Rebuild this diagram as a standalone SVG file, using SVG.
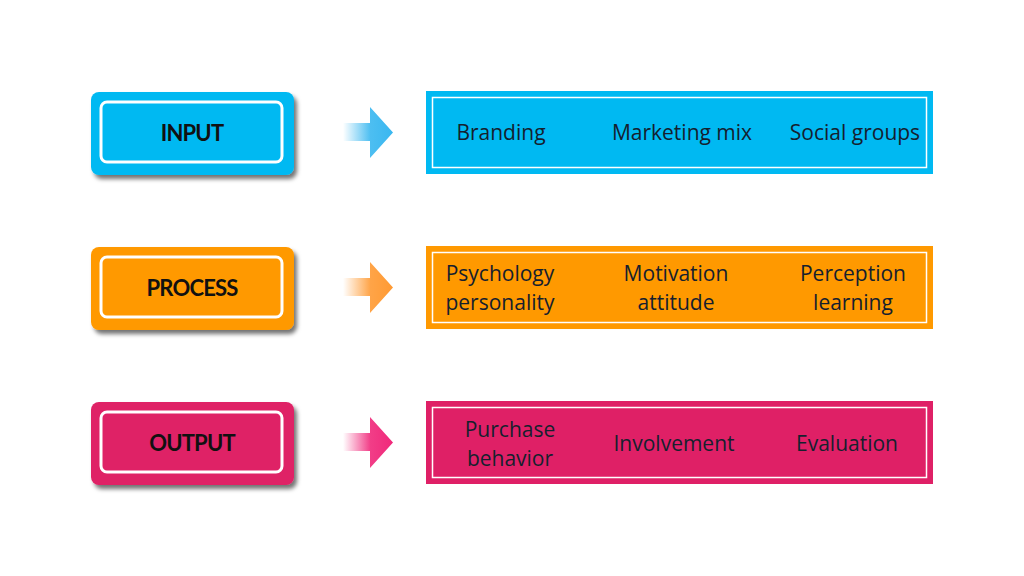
<svg xmlns="http://www.w3.org/2000/svg" width="1024" height="576" viewBox="0 0 1024 576">
<style>
.lbl{font-family:Lato,"Open Sans","Liberation Sans",sans-serif;font-weight:700;font-size:22px;letter-spacing:-0.8px;fill:#111;text-anchor:middle}
.t{font-family:"Open Sans","Liberation Sans",sans-serif;font-size:21px;fill:#15202e;text-anchor:middle}
.inner{fill:none;stroke:#fff;stroke-width:3}
.inner2{fill:none;stroke:#fff;stroke-width:1.5}
</style>
<defs>
<filter id="sh" x="-10%" y="-10%" width="130%" height="140%">
<feDropShadow dx="3" dy="4" stdDeviation="2" flood-color="#000" flood-opacity="0.55"/>
</filter>
<linearGradient id="gb" x1="0" x2="1" y1="0" y2="0"><stop offset="0" stop-color="#39b7f0" stop-opacity="0"/><stop offset="0.55" stop-color="#39b7f0" stop-opacity="0.9"/><stop offset="1" stop-color="#39b7f0"/></linearGradient>
<linearGradient id="go" x1="0" x2="1" y1="0" y2="0"><stop offset="0" stop-color="#ff9a33" stop-opacity="0"/><stop offset="0.55" stop-color="#ff9a33" stop-opacity="0.9"/><stop offset="1" stop-color="#ff9a33"/></linearGradient>
<linearGradient id="gp" x1="0" x2="1" y1="0" y2="0"><stop offset="0" stop-color="#f0287a" stop-opacity="0"/><stop offset="0.55" stop-color="#f0287a" stop-opacity="0.9"/><stop offset="1" stop-color="#f0287a"/></linearGradient>
</defs>
<rect width="1024" height="576" fill="#fff"/>

<g id="input">
<rect x="91" y="92" width="203" height="83" rx="8" fill="#00b9f2" filter="url(#sh)"/>
<rect x="101" y="102" width="181" height="60" rx="6" class="inner"/>
<text x="192" y="141" class="lbl">INPUT</text>
</g>
<g id="process">
<rect x="91" y="247" width="203" height="83" rx="8" fill="#ff9900" filter="url(#sh)"/>
<rect x="101" y="257" width="181" height="60" rx="6" class="inner"/>
<text x="192" y="296" class="lbl">PROCESS</text>
</g>
<g id="output">
<rect x="91" y="402" width="203" height="83" rx="8" fill="#df2066" filter="url(#sh)"/>
<rect x="101" y="412" width="181" height="60" rx="6" class="inner"/>
<text x="192" y="451" class="lbl">OUTPUT</text>
</g>

<g id="connectors">
<polygon points="343,123 370,123 370,107 393,132.5 370,158 370,141 343,141" fill="url(#gb)"/>
<polygon points="343,278 370,278 370,262 393,287.5 370,313 370,296 343,296" fill="url(#go)"/>
<polygon points="343,433 370,433 370,417 393,442.5 370,468 370,451 343,451" fill="url(#gp)"/>
</g>

<g id="input-details">
<rect x="426" y="91" width="507" height="83" fill="#00b9f2"/>
<rect x="432.5" y="97.5" width="494" height="70" class="inner2"/>
<text x="501" y="140" class="t">Branding</text>
<text x="682" y="140" class="t">Marketing mix</text>
<text x="855" y="140" class="t">Social groups</text>
</g>
<g id="process-details">
<rect x="426" y="246" width="507" height="83" fill="#ff9900"/>
<rect x="432.5" y="252.5" width="494" height="70" class="inner2"/>
<text x="500" y="281" class="t">Psychology</text>
<text x="500" y="310" class="t">personality</text>
<text x="676" y="281" class="t">Motivation</text>
<text x="676" y="310" class="t">attitude</text>
<text x="853" y="281" class="t">Perception</text>
<text x="853" y="310" class="t">learning</text>
</g>
<g id="output-details">
<rect x="426" y="401" width="507" height="83" fill="#df2066"/>
<rect x="432.5" y="407.5" width="494" height="70" class="inner2"/>
<text x="510" y="437" class="t">Purchase</text>
<text x="510" y="466" class="t">behavior</text>
<text x="674" y="451" class="t">Involvement</text>
<text x="847" y="451" class="t">Evaluation</text>
</g>
</svg>
